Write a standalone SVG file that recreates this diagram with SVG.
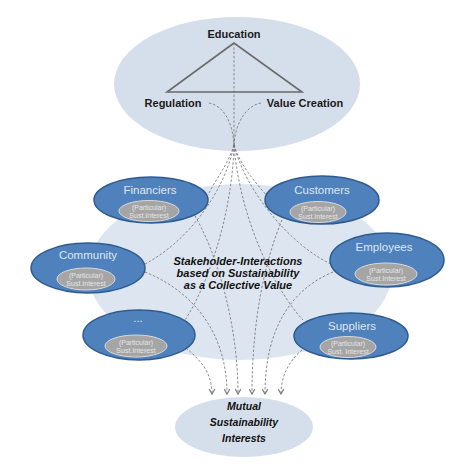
<svg xmlns="http://www.w3.org/2000/svg" width="474" height="474" viewBox="0 0 474 474">
<defs>
<style>
.bg{fill:#d5dfeb}
.node{fill:#4f81bd;stroke:#2f5b8e;stroke-width:1.5}
.inner{fill:#a5a5a5;stroke:#d9d9d9;stroke-width:1}
.nt{font-family:"Liberation Sans",Arial,sans-serif;font-size:11.5px;fill:#dde8f5;text-anchor:middle}
.it{font-family:"Liberation Sans",Arial,sans-serif;font-size:7px;fill:#e6e6e6;text-anchor:middle}
.bt{font-family:"Liberation Sans",Arial,sans-serif;font-size:11px;font-weight:bold;fill:#1a1a1a;text-anchor:middle}
.bi{font-family:"Liberation Sans",Arial,sans-serif;font-size:11px;font-weight:bold;font-style:italic;fill:#111;text-anchor:middle}
.bm{font-family:"Liberation Sans",Arial,sans-serif;font-size:10.5px;font-weight:bold;font-style:italic;fill:#111;text-anchor:middle}
.c{fill:none;stroke:#6f6f6f;stroke-width:0.8;stroke-dasharray:2.5 1.8}
.ca{fill:none;stroke:#6f6f6f;stroke-width:0.8;stroke-dasharray:2.5 1.8;marker-end:url(#ah)}
</style>
<marker id="ah" viewBox="0 0 10 10" refX="8" refY="5" markerWidth="7" markerHeight="7" orient="auto" markerUnits="userSpaceOnUse">
<path d="M1,1 L8,5 L1,9" fill="none" stroke="#7a7a7a" stroke-width="1.6"/>
</marker>
</defs>
<rect width="474" height="474" fill="#ffffff"/>
<ellipse class="bg" cx="237" cy="84" rx="123" ry="67"/>
<ellipse cx="240" cy="272" rx="152" ry="88" style="fill:#dde6f0"/>
<ellipse class="bg" cx="244" cy="427" rx="69" ry="30"/>
<g id="triangle">
<polygon points="234,43 167,92 302,92" fill="none" stroke="#6a6a6a" stroke-width="1.6"/>
</g>
<g id="connectors">
<path class="c" d="M234,43 L234,145"/>
<path class="c" d="M209,103 C225,106 233,125 234,145"/>
<path class="c" d="M261,103 C245,106 235,125 234,145"/>
<path class="c" d="M234,145 C228,165 215,180 208,195"/>
<path class="c" d="M234,145 C240,165 255,182 268,197"/>
<path class="c" d="M234,145 C225,190 190,240 145,264"/>
<path class="c" d="M234,145 C245,190 290,245 331,264"/>
<path class="c" d="M234,145 C232,220 205,290 185,320"/>
<path class="c" d="M234,145 C240,220 275,290 303,320"/>
<path class="ca" d="M195,216 C215,250 238,320 238,394"/>
<path class="ca" d="M282,220 C265,260 252,320 252,394"/>
<path class="ca" d="M145,272 C190,290 227,330 227,394"/>
<path class="ca" d="M333,272 C290,290 265,330 265,394"/>
<path class="ca" d="M186,348 C200,360 212,372 212,394"/>
<path class="ca" d="M302,350 C290,360 281,375 281,394"/>
</g>
<g id="top-labels">
<text class="bt" x="234" y="38">Education</text>
<text class="bt" x="173" y="107">Regulation</text>
<text class="bt" x="305" y="107">Value Creation</text>
</g>
<g id="financiers">
<ellipse class="node" cx="151" cy="200" rx="57" ry="23"/>
<text class="nt" x="150" y="194">Financiers</text>
<ellipse class="inner" cx="149" cy="211" rx="30" ry="10.5"/>
<text class="it" x="149" y="209.5">(Particular)</text>
<text class="it" x="149" y="218">Sust.Interest</text>
</g>
<g id="customers">
<ellipse class="node" cx="322" cy="200" rx="57" ry="24"/>
<text class="nt" x="322" y="194">Customers</text>
<ellipse class="inner" cx="318" cy="212" rx="28" ry="10.5"/>
<text class="it" x="318" y="210.5">(Particular)</text>
<text class="it" x="318" y="219">Sust.Interest</text>
</g>
<g id="community">
<ellipse class="node" cx="88" cy="268" rx="57" ry="25"/>
<text class="nt" x="88" y="259">Community</text>
<ellipse class="inner" cx="86" cy="279" rx="29" ry="11"/>
<text class="it" x="86" y="277.5">(Particular)</text>
<text class="it" x="86" y="286">Sust.Interest</text>
</g>
<g id="employees">
<ellipse class="node" cx="387" cy="260" rx="57" ry="27"/>
<text class="nt" x="384" y="251">Employees</text>
<ellipse class="inner" cx="386" cy="274" rx="31" ry="11"/>
<text class="it" x="386" y="272.5">(Particular)</text>
<text class="it" x="386" y="281">Sust.Interest</text>
</g>
<g id="others">
<ellipse class="node" cx="139" cy="335" rx="56" ry="25"/>
<text class="nt" x="138" y="322">...</text>
<ellipse class="inner" cx="136" cy="346" rx="31" ry="11"/>
<text class="it" x="136" y="344.5">(Particular)</text>
<text class="it" x="136" y="353">Sust.Interest</text>
</g>
<g id="suppliers">
<ellipse class="node" cx="351" cy="336" rx="57" ry="23"/>
<text class="nt" x="352" y="330">Suppliers</text>
<ellipse class="inner" cx="348" cy="347" rx="28" ry="10.5"/>
<text class="it" x="348" y="345.5">(Particular)</text>
<text class="it" x="348" y="354">Sust. Interest</text>
</g>
<g id="center-label">
<text class="bi" x="238" y="265">Stakeholder-Interactions</text>
<text class="bi" x="238" y="277">based on Sustainability</text>
<text class="bi" x="238" y="289">as a Collective Value</text>
</g>
<g id="mutual">
<text class="bm" x="244" y="410">Mutual</text>
<text class="bm" x="244" y="426">Sustainability</text>
<text class="bm" x="244" y="442">Interests</text>
</g>
</svg>
